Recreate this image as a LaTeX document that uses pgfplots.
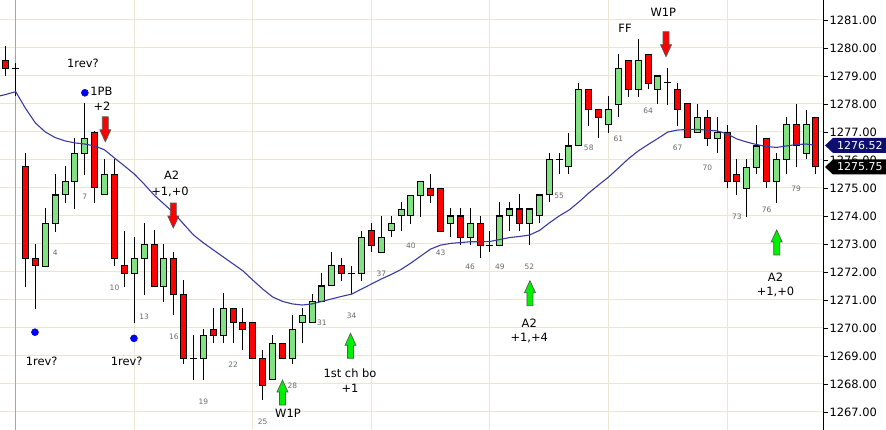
\documentclass[border=0pt]{standalone}
\usepackage{fontspec}
\setmainfont{DejaVu Sans}
\usepackage{pgfplots}
\pgfplotsset{compat=1.18}
\usepackage{pgfplotstable}

\definecolor{gridc}{RGB}{234,230,212}
\definecolor{sepc}{RGB}{165,165,165}
\definecolor{upc}{RGB}{128,226,128}
\definecolor{dnc}{RGB}{255,0,0}
\definecolor{mac}{RGB}{58,58,160}
\definecolor{navyflag}{RGB}{14,14,110}
\definecolor{numc}{RGB}{105,105,105}
\definecolor{arrg}{RGB}{0,240,0}

\pgfdeclareplotmark{uparr}{%
  \pgfpathmoveto{\pgfpoint{0bp}{0bp}}%
  \pgfpathlineto{\pgfpoint{5.5bp}{-12bp}}%
  \pgfpathlineto{\pgfpoint{3bp}{-12bp}}%
  \pgfpathlineto{\pgfpoint{3bp}{-25bp}}%
  \pgfpathlineto{\pgfpoint{-3bp}{-25bp}}%
  \pgfpathlineto{\pgfpoint{-3bp}{-12bp}}%
  \pgfpathlineto{\pgfpoint{-5.5bp}{-12bp}}%
  \pgfpathclose
  \pgfusepathqfillstroke}
\pgfdeclareplotmark{dnarr}{%
  \pgfpathmoveto{\pgfpoint{0bp}{0bp}}%
  \pgfpathlineto{\pgfpoint{5.5bp}{12bp}}%
  \pgfpathlineto{\pgfpoint{3bp}{12bp}}%
  \pgfpathlineto{\pgfpoint{3bp}{25bp}}%
  \pgfpathlineto{\pgfpoint{-3bp}{25bp}}%
  \pgfpathlineto{\pgfpoint{-3bp}{12bp}}%
  \pgfpathlineto{\pgfpoint{-5.5bp}{12bp}}%
  \pgfpathclose
  \pgfusepathqfillstroke}
% price flag at the right edge: tip at the origin
\pgfdeclareplotmark{flag}{%
  \pgfpathmoveto{\pgfpoint{0bp}{0bp}}%
  \pgfpathlineto{\pgfpoint{8bp}{7.5bp}}%
  \pgfpathlineto{\pgfpoint{70bp}{7.5bp}}%
  \pgfpathlineto{\pgfpoint{70bp}{-7.5bp}}%
  \pgfpathlineto{\pgfpoint{8bp}{-7.5bp}}%
  \pgfpathclose
  \pgfusepathqfill}

\pgfplotstableread{
n O H L C
-1 1279.55 1280.07 1279.00 1279.27
0 1279.27 1279.45 1278.30 1279.27
1 1275.76 1276.24 1271.48 1272.49
2 1272.49 1272.99 1270.67 1272.23
3 1272.21 1274.27 1272.21 1273.74
4 1273.74 1275.50 1273.44 1274.75
5 1274.75 1275.79 1274.45 1275.23
6 1275.23 1276.77 1274.24 1276.24
7 1276.24 1278.02 1275.46 1276.77
8 1276.99 1277.05 1274.45 1275.01
9 1274.75 1276.04 1274.75 1275.49
10 1275.49 1276.04 1272.21 1272.49
11 1272.23 1273.46 1271.48 1271.95
12 1271.95 1273.26 1270.19 1272.49
13 1272.49 1273.76 1271.18 1272.99
14 1272.99 1273.50 1271.48 1271.48
15 1271.48 1272.99 1270.94 1272.49
16 1272.49 1272.73 1270.46 1271.20
17 1271.20 1271.71 1268.70 1268.92
18 1268.92 1269.75 1268.14 1268.92
19 1268.92 1269.95 1268.14 1269.72
20 1269.93 1270.70 1269.45 1269.72
21 1269.72 1271.24 1269.45 1270.68
22 1270.68 1270.70 1269.45 1270.20
23 1270.20 1270.70 1269.21 1269.93
24 1270.20 1270.20 1268.90 1268.92
25 1268.92 1269.21 1267.43 1267.96
26 1268.17 1269.75 1268.17 1269.45
27 1269.45 1269.45 1268.92 1268.92
28 1268.92 1270.46 1268.70 1269.93
29 1270.20 1270.70 1269.45 1270.46
30 1270.20 1271.21 1270.20 1270.94
31 1270.94 1271.95 1270.94 1271.50
32 1271.50 1272.73 1271.50 1272.23
33 1272.23 1272.49 1271.69 1271.95
34 1271.95 1272.23 1271.21 1271.95
35 1271.95 1273.48 1271.69 1273.24
36 1273.48 1273.76 1272.70 1272.96
37 1272.70 1274.00 1272.70 1273.24
38 1273.48 1274.00 1273.24 1273.74
39 1274.00 1274.49 1273.48 1274.24
40 1274.00 1274.73 1273.71 1274.73
41 1274.73 1275.23 1273.98 1275.23
42 1274.99 1275.49 1274.48 1274.73
43 1274.99 1274.99 1273.46 1273.46
44 1273.74 1274.27 1273.24 1274.00
45 1274.00 1274.27 1272.96 1273.24
46 1273.24 1274.27 1272.96 1273.74
47 1273.74 1274.00 1272.49 1272.96
48 1272.96 1273.48 1272.70 1272.96
49 1272.96 1274.51 1272.96 1274.00
50 1274.00 1274.51 1273.48 1274.25
51 1274.25 1274.77 1273.48 1273.74
52 1273.74 1274.25 1272.96 1274.25
53 1274.00 1274.75 1273.74 1274.75
54 1274.75 1276.24 1274.51 1276.02
55 1276.02 1276.24 1275.50 1276.02
56 1275.76 1276.98 1275.50 1276.50
57 1276.50 1278.76 1276.50 1278.52
58 1278.52 1278.52 1277.21 1277.79
59 1277.79 1277.79 1276.77 1277.52
60 1277.25 1278.29 1276.98 1277.79
61 1277.99 1279.79 1277.52 1279.27
62 1279.54 1279.54 1278.26 1278.52
63 1278.52 1280.31 1278.26 1279.54
64 1279.77 1279.77 1278.52 1278.74
65 1278.52 1279.00 1277.99 1279.00
66 1278.76 1279.29 1277.97 1278.76
67 1278.52 1278.76 1277.21 1277.79
68 1278.00 1278.00 1276.79 1276.79
69 1276.98 1277.99 1276.98 1277.52
70 1277.52 1277.79 1276.50 1276.77
71 1276.77 1277.52 1276.24 1276.98
72 1276.98 1277.25 1274.99 1275.23
73 1275.49 1276.02 1274.75 1275.23
74 1274.99 1276.02 1273.98 1275.74
75 1275.74 1277.25 1275.49 1276.50
76 1276.77 1276.77 1274.99 1275.23
77 1275.23 1276.26 1274.45 1276.02
78 1276.02 1277.55 1275.49 1277.25
79 1277.25 1278.00 1275.74 1276.50
80 1276.24 1277.79 1276.02 1277.25
81 1277.52 1277.52 1275.49 1275.75
}\bars

\pgfplotstableread{
n M
-1.6 1278.29
-1 1278.34
0 1278.44
1 1277.84
2 1277.32
3 1277.00
4 1276.80
5 1276.68
6 1276.61
7 1276.57
8 1276.50
9 1276.36
10 1276.07
11 1275.79
12 1275.50
13 1275.14
14 1274.75
15 1274.43
16 1274.11
17 1273.71
18 1273.32
19 1273.04
20 1272.79
21 1272.54
22 1272.29
23 1272.04
24 1271.71
25 1271.39
26 1271.11
27 1270.95
28 1270.86
29 1270.82
30 1270.86
31 1270.95
32 1271.04
33 1271.13
34 1271.21
35 1271.39
36 1271.57
37 1271.75
38 1271.91
39 1272.09
40 1272.32
41 1272.57
42 1272.82
43 1272.96
44 1273.02
45 1273.05
46 1273.08
47 1273.08
48 1273.09
49 1273.16
50 1273.23
51 1273.27
52 1273.32
53 1273.48
54 1273.75
55 1274.00
56 1274.21
57 1274.50
58 1274.82
59 1275.11
60 1275.39
61 1275.71
62 1276.04
63 1276.32
64 1276.55
65 1276.77
66 1277.00
67 1277.07
68 1277.09
69 1277.09
70 1277.07
71 1277.04
72 1276.93
73 1276.75
74 1276.64
75 1276.55
76 1276.48
77 1276.45
78 1276.50
79 1276.55
80 1276.57
81 1276.52
}\ma

\pgfplotstableread{
n y lab
4 1272.67 4
7 1274.69 7
10 1271.44 10
13 1270.41 13
16 1269.69 16
19 1267.37 19
22 1268.68 22
25 1266.66 25
28 1267.93 28
31 1270.17 31
34 1270.44 34
37 1271.93 37
40 1272.94 40
43 1272.69 43
46 1272.19 46
49 1272.19 49
52 1272.19 52
55 1274.73 55
58 1276.44 58
61 1276.75 61
64 1277.75 64
67 1276.44 67
70 1275.73 70
73 1273.98 73
76 1274.22 76
79 1274.97 79
}\nums

\newcommand{\annfont}{\fontsize{11.5}{12}\selectfont}
\newcommand{\tickfont}{\fontsize{11.5}{12}\selectfont}
\newcommand{\flagfont}{\fontsize{11}{12}\selectfont}

\begin{document}
\begin{tikzpicture}
% prices are plotted relative to 1266 (y filter) to keep TeX dimensions small
\begin{axis}[
  at={(0,0)}, anchor=south west,
  scale only axis, width=823bp, height=430bp,
  set layers=standard,
  clip mode=individual,
  y filter/.expression={y-1266},
  xmin=-1.589, xmax=81.71, ymin=0.357, ymax=15.714,
  axis line style={draw=none},
  xtick={12,24,36,48,60,72}, xticklabels={},
  major x tick style={draw=none},
  xmajorgrids, ymajorgrids,
  major grid style={gridc, line width=1bp},
  extra x ticks={0}, extra x tick labels={},
  extra x tick style={grid=major, major grid style={sepc, line width=1bp}, major tick length=0pt},
  ytick={1,2,...,15},
  yticklabels={1267.00,1268.00,1269.00,1270.00,1271.00,1272.00,1273.00,1274.00,1275.00,1276.00,1277.00,1278.00,1279.00,1280.00,1281.00},
  ytick pos=right, yticklabel pos=right,
  tick align=outside,
  major tick length=5bp,
  ytick style={black, line width=0.8bp},
  yticklabel style={font=\tickfont, anchor=west, xshift=-2bp},
]
% wicks
\addplot[forget plot, mark=none, black, line width=1bp,
  quiver={u=0, v=\thisrow{H}-\thisrow{L}}]
  table[x=n, y=L] {\bars};
% up bodies
\addplot[forget plot, mark=none, black, line width=7bp,
  restrict expr to domain={\thisrow{C}-\thisrow{O}}{0:100},
  quiver={u=0, v=abs(\thisrow{C}-\thisrow{O})+0.036}]
  table[x=n, y expr={min(\thisrow{O},\thisrow{C})-0.018}] {\bars};
\addplot[forget plot, mark=none, upc, line width=5bp,
  restrict expr to domain={\thisrow{C}-\thisrow{O}}{0.04:100},
  quiver={u=0, v=abs(\thisrow{C}-\thisrow{O})-0.036}]
  table[x=n, y expr={min(\thisrow{O},\thisrow{C})+0.018}] {\bars};
% down bodies
\addplot[forget plot, mark=none, black, line width=7bp,
  restrict expr to domain={\thisrow{C}-\thisrow{O}}{-100:-0.001},
  quiver={u=0, v=abs(\thisrow{C}-\thisrow{O})+0.036}]
  table[x=n, y expr={min(\thisrow{O},\thisrow{C})-0.018}] {\bars};
\addplot[forget plot, mark=none, dnc, line width=5bp,
  restrict expr to domain={\thisrow{C}-\thisrow{O}}{-100:-0.04},
  quiver={u=0, v=abs(\thisrow{C}-\thisrow{O})-0.036}]
  table[x=n, y expr={min(\thisrow{O},\thisrow{C})+0.018}] {\bars};
% moving average
\addplot[mac, line width=1.1bp, mark=none] table[x=n, y=M] {\ma};
% bar numbers
\addplot[only marks, mark=none, nodes near coords, point meta=explicit symbolic,
  every node near coord/.style={anchor=center, inner sep=0pt, font=\fontsize{7.5}{8}\selectfont, text=numc}]
  table[x=n, y=y, meta=lab] {\nums};
% blue dots
\addplot[only marks, mark=*, mark size=3.5bp, mark options={fill=blue, draw=blue!70!black, line width=0.5bp}]
  coordinates {(7,1278.40) (1.95,1269.85) (11.97,1269.63)};
% arrows
\addplot[only marks, mark=uparr, mark options={fill=arrg, draw=black!65, line width=0.7bp}]
  coordinates {(27.0,1268.14) (33.89,1269.81) (52.05,1271.69) (77.02,1273.50)};
\addplot[only marks, mark=dnarr, mark options={fill=dnc, draw=black!65, line width=0.7bp}]
  coordinates {(9.07,1276.65) (15.95,1273.57) (65.82,1279.69)};
% annotations (positions relative to 1266)
\node[font=\annfont, inner sep=0pt] at (axis cs:6.81,13.46) {1rev?};
\node[font=\annfont, inner sep=0pt] at (axis cs:8.68,12.46) {1PB};
\node[font=\annfont, inner sep=0pt] at (axis cs:8.73,11.93) {+2};
\node[font=\annfont, inner sep=0pt] at (axis cs:2.63,2.82) {1rev?};
\node[font=\annfont, inner sep=0pt] at (axis cs:11.23,2.82) {1rev?};
\node[font=\annfont, inner sep=0pt] at (axis cs:15.79,9.46) {A2};
\node[font=\annfont, inner sep=0pt] at (axis cs:15.62,8.87) {+1,+0};
\node[font=\annfont, inner sep=0pt] at (axis cs:27.56,0.96) {W1P};
\node[font=\annfont, inner sep=0pt] at (axis cs:33.84,2.38) {1st ch bo};
\node[font=\annfont, inner sep=0pt] at (axis cs:33.84,1.86) {+1};
\node[font=\annfont, inner sep=0pt] at (axis cs:51.98,4.17) {A2};
\node[font=\annfont, inner sep=0pt] at (axis cs:51.98,3.63) {+1,+4};
\node[font=\annfont, inner sep=0pt] at (axis cs:61.67,14.71) {FF};
\node[font=\annfont, inner sep=0pt] at (axis cs:65.55,15.26) {W1P};
\node[font=\annfont, inner sep=0pt] at (axis cs:76.9,5.80) {A2};
\node[font=\annfont, inner sep=0pt] at (axis cs:76.9,5.30) {+1,+0};
% right axis line
\begin{pgfonlayer}{axis foreground}
\draw[black, line width=1bp] (rel axis cs:1,0) -- (rel axis cs:1,1);
\end{pgfonlayer}
% price flags: last moving-average value and last close
\addplot[only marks, mark=flag, mark options={fill=navyflag, draw=none, xshift=2bp},
  nodes near coords={1276.52}, every node near coord/.style={anchor=west, xshift=12bp, inner sep=0pt, text=white, font=\flagfont}]
  coordinates {(81.71,1276.52)};
\addplot[only marks, mark=flag, mark options={fill=black, draw=none, xshift=2bp},
  nodes near coords={1275.75}, every node near coord/.style={anchor=west, xshift=12bp, inner sep=0pt, text=white, font=\flagfont}]
  coordinates {(81.71,1275.75)};
\end{axis}
\pgfresetboundingbox
\useasboundingbox (0,0) rectangle (886bp,430bp);
\end{tikzpicture}
\end{document}
